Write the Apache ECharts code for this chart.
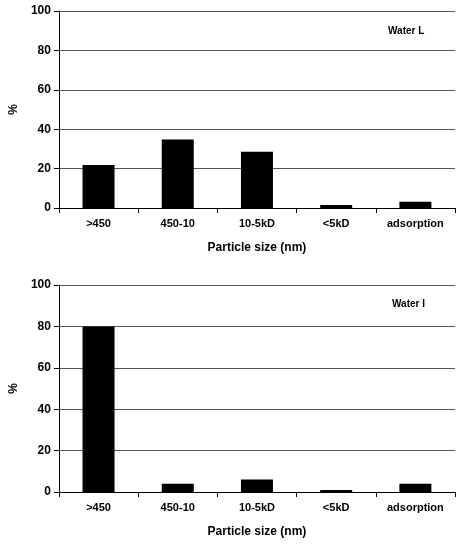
<!DOCTYPE html>
<html><head><meta charset="utf-8">
<script src="https://cdn.jsdelivr.net/npm/echarts@6/dist/echarts.min.js"></script>
<style>html,body{margin:0;padding:0;background:#fff}#c{width:474px;height:556px}</style>
</head><body><div id="c"></div>
<script>
const categories = ['>450','450-10','10-5kD','<5kD','adsorption'];
const waterL = [21.8, 34.8, 28.5, 1.5, 3.2];
const waterI = [80, 4, 6, 1, 4];
const yTicks = [0,20,40,60,80,100];
const F = 'Arial, Liberation Sans, sans-serif';
const chart = echarts.init(document.getElementById('c'));
function xAxis(i){return {gridIndex:i,type:'category',data:categories,
  axisLine:{lineStyle:{color:'#000'}},axisTick:{show:true,alignWithLabel:false,lineStyle:{color:'#000'}},
  axisLabel:{color:'#000',fontFamily:F,fontSize:11,fontWeight:'bold',margin:10},
  name:'Particle size (nm)',nameLocation:'middle',nameGap:34,
  nameTextStyle:{color:'#000',fontFamily:F,fontSize:12,fontWeight:'bold'}};}
function yAxis(i){return {gridIndex:i,type:'value',min:0,max:100,interval:20,
  axisLine:{show:true,lineStyle:{color:'#000'}},axisTick:{show:true,lineStyle:{color:'#000'}},
  splitLine:{lineStyle:{color:'#555'}},
  axisLabel:{color:'#000',fontFamily:F,fontSize:12,fontWeight:'bold',formatter:v=>yTicks.includes(v)?String(v):''},
  name:'%',nameLocation:'middle',nameGap:36,nameRotate:90,
  nameTextStyle:{color:'#000',fontFamily:F,fontSize:12,fontWeight:'bold'}};}
chart.setOption({
  animation:false,
  grid:[{left:55,top:11,width:400,height:197},{left:55,top:285,width:400,height:207}],
  xAxis:[xAxis(0),xAxis(1)],
  yAxis:[yAxis(0),yAxis(1)],
  graphic:[
    {type:'text',left:388,top:26,style:{text:'Water L',fill:'#000',font:'bold 10px '+F}},
    {type:'text',left:392,top:299,style:{text:'Water I',fill:'#000',font:'bold 10px '+F}}
  ],
  series:[
    {type:'bar',xAxisIndex:0,yAxisIndex:0,data:waterL,barWidth:32,itemStyle:{color:'#000'}},
    {type:'bar',xAxisIndex:1,yAxisIndex:1,data:waterI,barWidth:32,itemStyle:{color:'#000'}}
  ]
});
</script></body></html>
